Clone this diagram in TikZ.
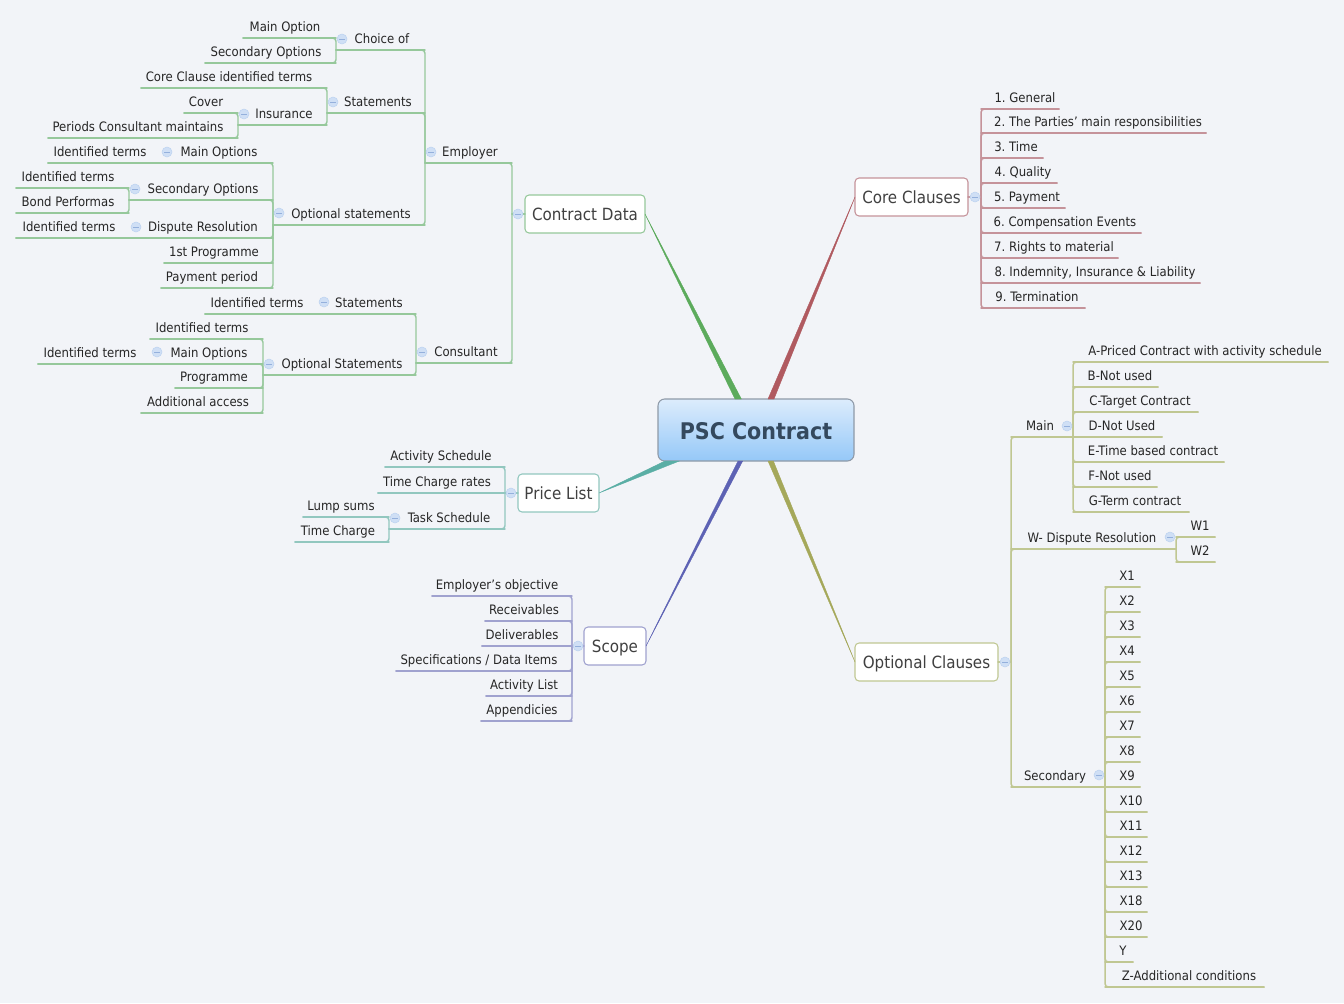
\documentclass[tikz,border=0pt]{standalone}
\usepackage{fontspec}
\setmainfont{DejaVu Sans Condensed}
\frenchspacing
\definecolor{bgc}{HTML}{F2F4F8}
\definecolor{txt}{HTML}{262626}
\definecolor{brgreen}{HTML}{96C89B}
\definecolor{brred}{HTML}{C5939A}
\definecolor{brteal}{HTML}{92C7BF}
\definecolor{brblue}{HTML}{A0A2CF}
\definecolor{brolive}{HTML}{C0C792}
\definecolor{tapgreen}{HTML}{5CAB5C}
\definecolor{tapred}{HTML}{B05A60}
\definecolor{tapteal}{HTML}{5AAEA5}
\definecolor{tapblue}{HTML}{5D62B4}
\definecolor{tapolive}{HTML}{A5A85A}
\definecolor{rtop}{HTML}{DCECFC}
\definecolor{rbot}{HTML}{95C8F8}
\definecolor{rline}{HTML}{8F9AA8}
\definecolor{rtxt}{HTML}{34495E}
\definecolor{icfill}{HTML}{CFDFF5}
\definecolor{icline}{HTML}{BDD3F0}
\definecolor{icdash}{HTML}{94B0DC}
\tikzset{
  ln/.style={line width=1.1pt,line cap=round},
  topic/.style={inner sep=0pt,outer sep=0pt,text height=12pt,text depth=5pt,font=\fontsize{9.75}{12}\selectfont,text=txt},
  box/.style={rectangle,rounded corners=3pt,fill=white,line width=.8pt,minimum height=28.5pt,inner sep=0pt,outer sep=0pt,text height=9.5pt,text depth=0pt,font=\fontsize{12.6}{15}\selectfont,text=black!75},
  rootbox/.style={rectangle,rounded corners=5pt,top color=rtop,bottom color=rbot,draw=rline,line width=.8pt,minimum width=147pt,minimum height=46.5pt,inner sep=0pt,outer sep=0pt,text height=13.5pt,text depth=0pt,font=\fontsize{17.2}{20}\selectfont\bfseries,text=rtxt},
  icon/.style={circle,fill=icfill,draw=icline,line width=.4pt,minimum size=7.5pt,inner sep=0pt,path picture={\draw[icdash,line width=.6pt] ([xshift=-2.2pt]path picture bounding box.center) -- ([xshift=2.2pt]path picture bounding box.center);}},
  taper/.style={line width=.3pt,line join=round}
}
\newcommand\T[6]{%
  \pgfmathsetlengthmacro\tpW{(#3-#2)*0.75pt}%
  \pgfmathsetlengthmacro\tpO{(#5-#2)*0.75pt}%
  \node[topic,minimum width=\tpW,anchor=south west] (#1) at (#2,#4) {\makebox[\tpW][l]{\hspace*{\tpO}\makebox[0pt][c]{#6}}};%
  \draw[ln] (#1.south west) -- (#1.south east);}
\newcommand\CL[2]{\draw[ln,rounded corners=2.5pt] (#1.south west) |- (#2.south west);}
\newcommand\CR[2]{\draw[ln,rounded corners=2.5pt] (#1.south east) |- (#2.south east);}
\newcommand\SL[2]{\draw[ln] (#1.south west) -- (#2.south west);}
\newcommand\SR[2]{\draw[ln] (#1.south east) -- (#2.south east);}
\newcommand\JL[2]{\draw[ln,rounded corners=2.5pt] (#1) |- (#2.south west);}
\newcommand\JR[2]{\draw[ln,rounded corners=2.5pt] (#1) |- (#2.south east);}
\newcommand\I[3]{\node[icon] (#1) at (#2,#3) {};}
\begin{document}
\begin{tikzpicture}[x=0.75pt,y=-0.75pt]
\fill[bgc] (0,0) rectangle (1344,1003);
\useasboundingbox (0,0) rectangle (1344,1003);

\node[rootbox] (root) at (756,430) {PSC Contract};

% ---------- Contract Data
\begin{scope}[ln/.append style={draw=brgreen}]
\node[box,draw=brgreen,minimum width=90pt] (cd) at (585,214) {Contract Data};
\coordinate (cdj) at (512,214);
\draw[ln] (cd.west) -- (cdj);
\T{emp}{425}{512}{163}{470}{Employer}
\T{cons}{416}{512}{363}{466}{Consultant}
\JL{cdj}{emp}\JL{cdj}{cons}
\T{choice}{336}{425}{50}{382}{Choice of}
\T{stat}{327}{425}{113}{378}{Statements}
\T{opts}{273}{425}{225}{351}{Optional statements}
\CL{emp}{choice}\CL{emp}{stat}\CL{emp}{opts}
\T{mopt}{243}{336}{38}{285}{Main Option}
\T{sopt}{205}{336}{63}{266}{Secondary Options}
\CL{choice}{mopt}\CL{choice}{sopt}
\T{cci}{141}{327}{88}{229}{Core Clause identified terms}
\T{ins}{238}{327}{125}{284}{Insurance}
\CL{stat}{cci}\CL{stat}{ins}
\T{cover}{184}{238}{113}{206}{Cover}
\T{peri}{48}{238}{138}{138}{Periods Consultant maintains}
\CL{ins}{cover}\CL{ins}{peri}
\T{eMain}{161}{273}{163}{219}{Main Options}
\T{eMainT}{48}{161}{163}{100}{Identified terms}
\T{eSec}{129}{273}{200}{203}{Secondary Options}
\T{eSecA}{16}{129}{188}{68}{Identified terms}
\T{eSecB}{16}{129}{213}{68}{Bond Performas}
\T{eDis}{130}{273}{238}{203}{Dispute Resolution}
\T{eDisT}{16}{130}{238}{69}{Identified terms}
\T{ePro}{164}{273}{263}{214}{1st Programme}
\T{ePay}{161}{273}{288}{212}{Payment period}
\CL{opts}{eMain}\CL{opts}{eSec}\CL{opts}{eDis}\CL{opts}{ePro}\CL{opts}{ePay}
\SL{eMain}{eMainT}\CL{eSec}{eSecA}\CL{eSec}{eSecB}\SL{eDis}{eDisT}
\T{cSt}{315}{416}{314}{369}{Statements}
\T{cStT}{205}{315}{314}{257}{Identified terms}
\T{cOp}{263}{416}{375}{342}{Optional Statements}
\CL{cons}{cSt}\CL{cons}{cOp}\SL{cSt}{cStT}
\T{cId}{150}{263}{339}{202}{Identified terms}
\T{cMa}{152}{263}{364}{209}{Main Options}
\T{cMaT}{38}{152}{364}{90}{Identified terms}
\T{cPr}{175}{263}{388}{214}{Programme}
\T{cAd}{141}{263}{413}{198}{Additional access}
\CL{cOp}{cId}\CL{cOp}{cMa}\CL{cOp}{cPr}\CL{cOp}{cAd}\SL{cMa}{cMaT}
\I{i1}{518}{214}\I{i2}{431}{152}\I{i3}{342}{39}\I{i4}{333}{102}\I{i5}{244}{114}\I{i6}{167}{152}\I{i7}{135}{189}\I{i8}{136}{227}\I{i9}{279}{213}\I{i10}{422}{352}\I{i11}{324}{302}\I{i12}{269}{364}\I{i13}{157}{352}
\end{scope}

% ---------- Price List
\begin{scope}[ln/.append style={draw=brteal}]
\node[box,draw=brteal,minimum width=60.75pt] (pl) at (558.5,493) {Price List};
\coordinate (plj) at (505,493);
\draw[ln] (pl.west) -- (plj);
\T{plA}{385}{505}{467}{441}{Activity Schedule}
\T{plB}{378}{505}{493}{437}{Time Charge rates}
\T{plC}{389}{505}{529}{449}{Task Schedule}
\JL{plj}{plA}\draw[ln] (plj) -- (plB.south west);\JL{plj}{plC}
\T{plD}{303}{389}{517}{341}{Lump sums}
\T{plE}{295}{389}{542}{338}{Time Charge}
\CL{plC}{plD}\CL{plC}{plE}
\I{i20}{511}{493}\I{i21}{395}{518}
\end{scope}

% ---------- Scope
\begin{scope}[ln/.append style={draw=brblue}]
\node[box,draw=brblue,minimum width=46.5pt] (sc) at (615,646) {Scope};
\coordinate (scj) at (572,646);
\draw[ln] (sc.west) -- (scj);
\T{scA}{432}{572}{596}{497}{Employer's objective}
\T{scB}{485}{572}{621}{524}{Receivables}
\T{scC}{482}{572}{646}{522}{Deliverables}
\T{scD}{396}{572}{671}{479}{Specifications / Data Items}
\T{scE}{486}{572}{696}{524}{Activity List}
\T{scF}{481}{572}{721}{522}{Appendicies}
\JL{scj}{scA}\JL{scj}{scB}\draw[ln] (scj) -- (scC.south west);\JL{scj}{scD}\JL{scj}{scE}\JL{scj}{scF}
\I{i30}{578}{646}
\end{scope}

% ---------- Core Clauses
\begin{scope}[ln/.append style={draw=brred}]
\node[box,draw=brred,minimum width=84.75pt] (cc) at (911.5,197) {Core Clauses};
\coordinate (ccj) at (981,197);
\draw[ln] (cc.east) -- (ccj);
\T{cc1}{981}{1059}{109}{1025}{1. General}
\T{cc2}{981}{1206}{133}{1098}{2. The Parties' main responsibilities}
\T{cc3}{981}{1043}{158}{1016}{3. Time}
\T{cc4}{981}{1057}{183}{1023}{4. Quality}
\T{cc5}{981}{1065}{208}{1027}{5. Payment}
\T{cc6}{981}{1141}{233}{1065}{6. Compensation Events}
\T{cc7}{981}{1118}{258}{1054}{7. Rights to material}
\T{cc8}{981}{1200}{283}{1095}{8. Indemnity, Insurance \& Liability}
\T{cc9}{981}{1085}{308}{1037}{9. Termination}
\JR{ccj}{cc1}\JR{ccj}{cc2}\JR{ccj}{cc3}\JR{ccj}{cc4}\JR{ccj}{cc5}\JR{ccj}{cc6}\JR{ccj}{cc7}\JR{ccj}{cc8}\JR{ccj}{cc9}
\I{i40}{975}{197}
\end{scope}

% ---------- Optional Clauses
\begin{scope}[ln/.append style={draw=brolive}]
\node[box,draw=brolive,minimum width=107.25pt] (oc) at (926.5,662) {Optional Clauses};
\coordinate (ocj) at (1011,662);
\draw[ln] (oc.east) -- (ocj);
\T{oMain}{1011}{1073}{437}{1040}{Main}
\T{oW}{1011}{1176}{549}{1092}{W- Dispute Resolution}
\T{oSec}{1011}{1105}{787}{1055}{Secondary}
\JR{ocj}{oMain}\JR{ocj}{oW}\JR{ocj}{oSec}
\T{mA}{1073}{1328}{362}{1205}{A-Priced Contract with activity schedule}
\T{mB}{1073}{1158}{387}{1120}{B-Not used}
\T{mC}{1073}{1198}{412}{1140}{C-Target Contract}
\T{mD}{1073}{1162}{437}{1122}{D-Not Used}
\T{mE}{1073}{1224}{462}{1153}{E-Time based contract}
\T{mF}{1073}{1157}{487}{1120}{F-Not used}
\T{mG}{1073}{1189}{512}{1135}{G-Term contract}
\CR{oMain}{mA}\CR{oMain}{mB}\CR{oMain}{mC}\SR{oMain}{mD}\CR{oMain}{mE}\CR{oMain}{mF}\CR{oMain}{mG}
\T{w1}{1176}{1215}{537}{1200}{W1}
\T{w2}{1176}{1215}{562}{1200}{W2}
\CR{oW}{w1}\CR{oW}{w2}
\foreach \nm/\ly/\rx/\cx in {X1/587/1140/1127,X2/612/1140/1127,X3/637/1140/1127,X4/662/1140/1127,X5/687/1140/1127,X6/712/1140/1127,X7/737/1140/1127,X8/762/1140/1127,X10/812/1147/1131,X11/837/1147/1131,X12/862/1147/1131,X13/887/1147/1131,X18/912/1147/1131,X20/937/1147/1131,Y/962/1133/1123}{
  \T{s\nm}{1105}{\rx}{\ly}{\cx}{\nm}
  \CR{oSec}{s\nm}
}
\T{sX9}{1105}{1140}{787}{1127}{X9}
\SR{oSec}{sX9}
\T{sZ}{1105}{1264}{987}{1189}{Z-Additional conditions}
\CR{oSec}{sZ}
\I{i50}{1005}{662}\I{i51}{1067}{426}\I{i52}{1170}{537}\I{i53}{1099}{775}
\end{scope}

% ---------- tapered main branches
\filldraw[taper,draw=tapgreen,fill=tapgreen] ([xshift=57.75pt]root.north west) -- ([xshift=62.5pt]root.north west) -- (cd.east) -- cycle;
\filldraw[taper,draw=tapred,fill=tapred] ([xshift=82.5pt]root.north west) -- ([xshift=87pt]root.north west) -- (cc.west) -- cycle;
\filldraw[taper,draw=tapteal,fill=tapteal] ([xshift=5.25pt]root.south west) -- ([xshift=16pt]root.south west) -- (pl.east) -- cycle;
\filldraw[taper,draw=tapblue,fill=tapblue] ([xshift=60pt]root.south west) -- ([xshift=63.5pt]root.south west) -- (sc.east) -- cycle;
\filldraw[taper,draw=tapolive,fill=tapolive] ([xshift=82.5pt]root.south west) -- ([xshift=86.5pt]root.south west) -- (oc.west) -- cycle;
\end{tikzpicture}
\end{document}
